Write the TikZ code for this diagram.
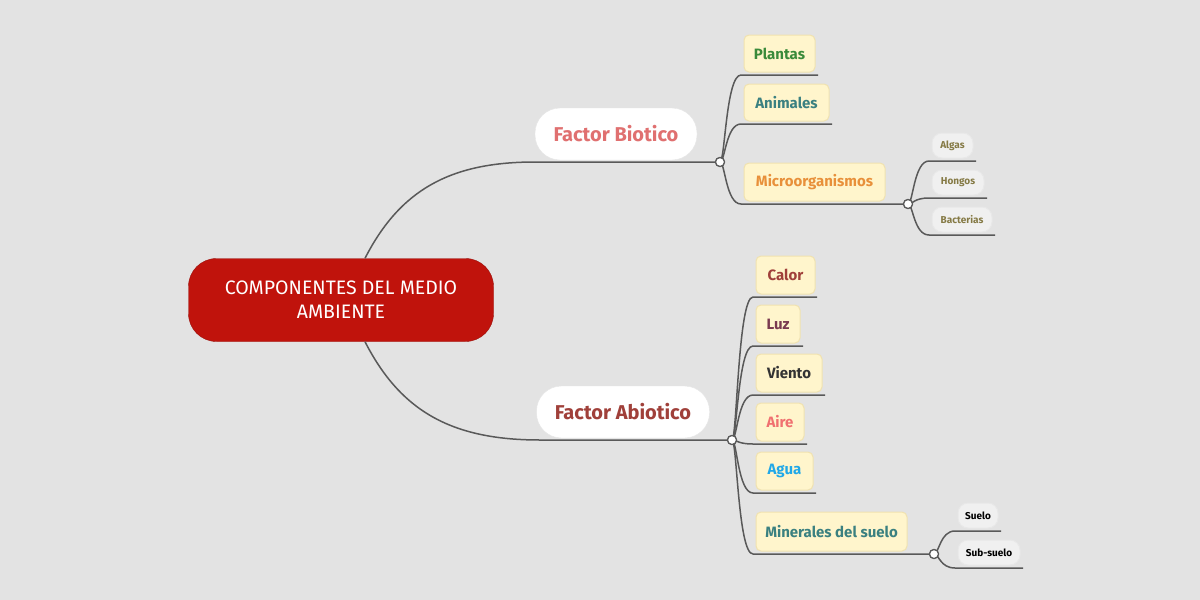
\documentclass[tikz,border=0pt]{standalone}
\usepackage{fontspec}
\setmainfont{Fira Sans}
\begin{document}
\begin{tikzpicture}[x=1pt,y=-1pt,
  link/.style={draw=black!65,line width=1.5pt},
  knob/.style={circle,draw=black!65,fill=white,line width=1.2pt,minimum size=9pt,inner sep=0pt},
  ybox/.style={draw=ybd,line width=1pt,fill=ybf,rounded corners=5pt,font=\fontsize{15}{18}\selectfont\bfseries,inner sep=0pt},
  gbox/.style={draw=black!9,line width=1pt,fill=black!6,rounded corners=10pt,font=\fontsize{10}{12}\selectfont\bfseries,inner sep=0pt},
  pill/.style={draw=black!10,fill=white,rounded corners=25pt,font=\fontsize{20}{24}\selectfont\bfseries,inner sep=0pt}]
\definecolor{ybf}{HTML}{FFF5CC}\definecolor{ybd}{HTML}{F0E2B0}
\definecolor{cpl}{HTML}{3A8A3A}\definecolor{can}{HTML}{3A8080}\definecolor{cmi}{HTML}{E8903A}
\definecolor{csm}{HTML}{857A45}\definecolor{cca}{HTML}{A0403A}\definecolor{clu}{HTML}{7A3A50}
\definecolor{cvi}{HTML}{333333}\definecolor{cai}{HTML}{F07070}\definecolor{cag}{HTML}{20A8E8}
\definecolor{cbi}{HTML}{E07070}\definecolor{croot}{HTML}{C0130C}
\fill[black!11] (0,0) rectangle (1200,600);
\useasboundingbox (0,0) rectangle (1200,600);
\node[fill=croot,draw=croot!80!black,rounded corners=28pt,minimum width=305pt,minimum height=83pt,align=center,text=white,font=\fontsize{19.5}{24}\selectfont] (root) at (341,300) {COMPONENTES DEL MEDIO\\AMBIENTE};
\node[pill,minimum width=162pt,minimum height=52pt,text=cbi] (bio) at (616,134) {Factor Biotico};
\node[pill,minimum width=173pt,minimum height=52pt,text=cca] (abio) at (623,412) {Factor Abiotico};
\node[knob] (kb) at (720,162) {};
\node[knob] (ka) at (732,440) {};
\draw[link] (root.north)++(24,0) coordinate (r1) .. controls (400,190) and (450,162) .. (535,162) -- (kb);
\draw[link] (root.south)++(24,0) coordinate (r2) .. controls (400,410) and (450,440) .. (540,440) -- (ka);
\def\child#1#2#3#4#5#6#7#8#9{%
  \node[#9,minimum width=#3-#2,minimum height=#5-#4,text=#7] (#1) at ({(#2+#3)/2},{(#4+#5)/2}) {#8};
  \coordinate (#1s) at (#2,#5+3); \coordinate (#1e) at (#6,#5+3);
}
\child{pl}{744}{815}{35}{72}{818}{cpl}{Plantas}{ybox}
\child{an}{744}{829}{84}{121}{832}{can}{Animales}{ybox}
\child{mi}{744}{885}{163}{201}{908}{cmi}{Microorganismos}{ybox}
\node[knob] (km) at (908,204) {};
\child{al}{932}{973}{133}{158}{976}{csm}{Algas}{gbox}
\child{ho}{932}{984}{170}{195}{987}{csm}{Hongos}{gbox}
\child{ba}{932}{992}{207}{232}{995}{csm}{Bacterias}{gbox}
\child{ca}{756}{815}{256}{294}{817}{cca}{Calor}{ybox}
\child{lu}{756}{800}{305}{343}{803}{clu}{Luz}{ybox}
\child{vi}{756}{822}{354}{392}{825}{cvi}{Viento}{ybox}
\child{ai}{756}{804}{403}{441}{807}{cai}{Aire}{ybox}
\child{ag}{756}{813}{452}{490}{816}{cag}{Agua}{ybox}
\child{mn}{756}{907}{512}{551}{934}{can}{Minerales del suelo}{ybox}
\node[knob] (kn) at (934,554) {};
\child{su}{958}{998}{503}{528}{1001}{black}{Suelo}{gbox}
\child{ss}{958}{1020}{540}{565}{1023}{black}{Sub-suelo}{gbox}
\foreach \k/\c in {kb/pl,kb/an,kb/mi,km/al,km/ho,km/ba,ka/ca,ka/lu,ka/vi,ka/ai,ka/ag,ka/mn,kn/su,kn/ss}{
  \draw[link] (\k.center) .. controls ([xshift=5pt]\k.center) and ([xshift=-18pt]\c s) .. ([xshift=-3pt]\c s) -- (\c e);
}
\foreach \k in {kb,ka,km,kn}{\node[knob] at (\k) {};}
\end{tikzpicture}
\end{document}
